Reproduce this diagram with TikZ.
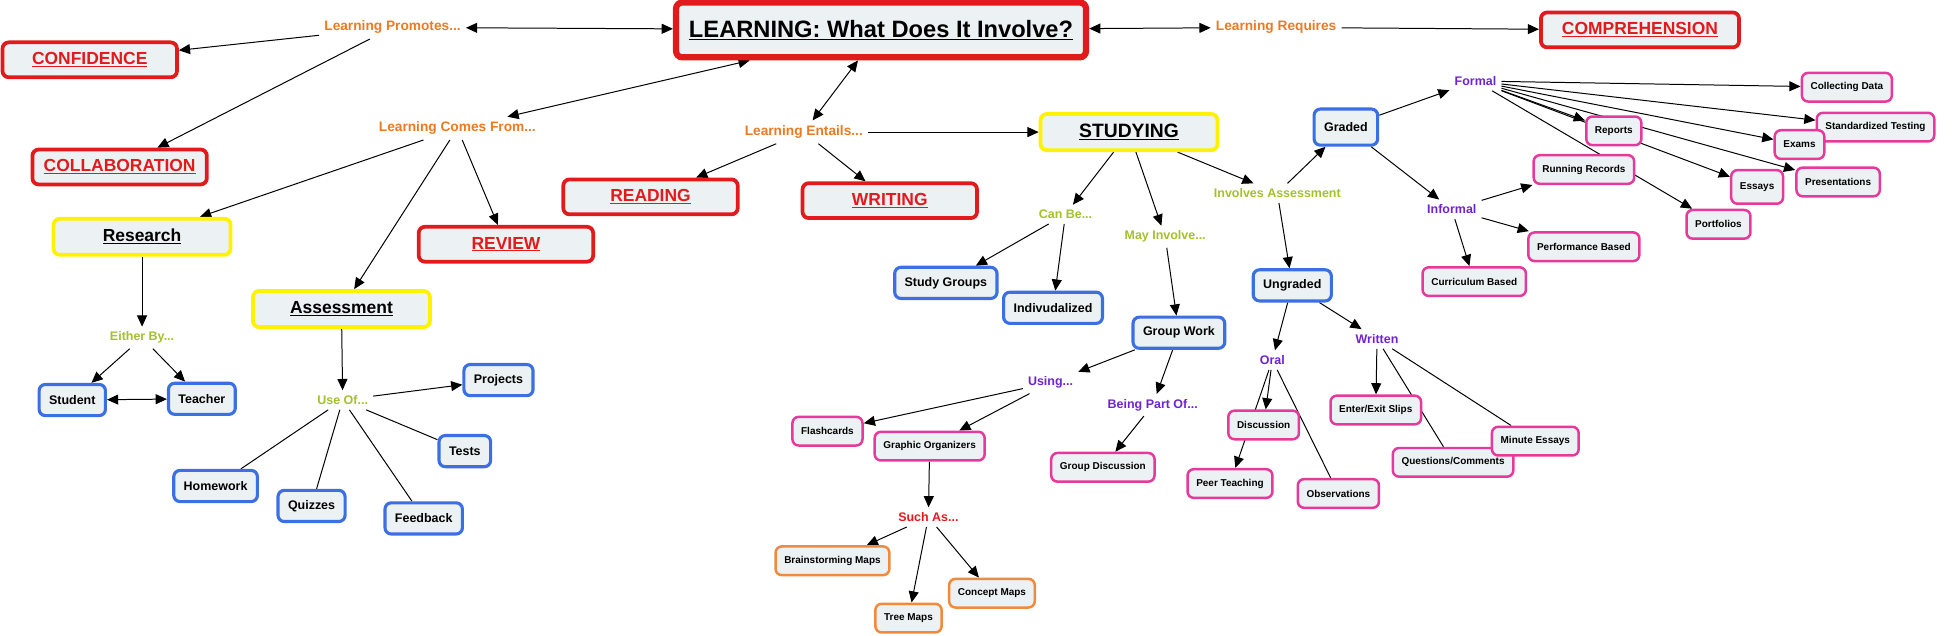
\documentclass[tikz,border=0pt]{standalone}
\usepackage{fontspec}
\setmainfont{Liberation Sans}
\usepackage{tikz}
\usetikzlibrary{ arrows.meta,  % For the triangle tips
                 positioning,
               }
\definecolor{boxfill}{HTML}{ECF1F3}
\definecolor{mapred}{HTML}{E31A1C}
\definecolor{mapyellow}{HTML}{FFF200}
\definecolor{mapblue}{HTML}{3B6FE3}
\definecolor{mappink}{HTML}{E6399B}
\definecolor{maporange}{HTML}{F08A3C}
\definecolor{txtorange}{HTML}{EB7A22}
\definecolor{txtgreen}{HTML}{A2C12A}
\definecolor{txtpurple}{HTML}{6E22D2}
\newcommand{\mapfont}[1]{\fontsize{#1}{#1}\selectfont\bfseries}
\pgfdeclarelayer{background}
\pgfsetlayers{background,main}

\tikzstyle{edge} = [-{Triangle[length=9pt, width=8pt]}, line width=0.8pt]
\tikzstyle{both} = [{Triangle[length=9pt, width=8pt]}-{Triangle[length=9pt, width=8pt]}, line width=0.8pt]
\tikzstyle{plain} = [line width=0.8pt]
\tikzstyle{concept} = [rectangle, rounded corners=5pt, fill=boxfill, text=black, inner xsep=8pt, minimum height=25pt]
\tikzstyle{headline} = [concept, draw=mapred, line width=5pt, minimum width=329pt, minimum height=44pt, font=\mapfont{19}]
\tikzstyle{redbox} = [concept, draw=mapred, line width=3pt, text=mapred, minimum width=140pt, minimum height=28pt, font=\mapfont{14}]
\tikzstyle{yellowbox} = [concept, draw=mapyellow, line width=3pt, minimum width=142pt, minimum height=29pt, font=\mapfont{14}]
\tikzstyle{bluebox} = [concept, draw=mapblue, line width=2.5pt, font=\mapfont{10}]
\tikzstyle{pinkbox} = [concept, draw=mappink, line width=2pt, inner xsep=7pt, minimum height=23pt, font=\mapfont{8}]
\tikzstyle{orangebox} = [pinkbox, draw=maporange]
\tikzstyle{phrase} = [inner sep=4pt, font=\mapfont{10}]
\tikzstyle{orangephrase} = [phrase, text=txtorange, font=\mapfont{11}]
\tikzstyle{greenphrase} = [phrase, text=txtgreen]
\tikzstyle{purplephrase} = [phrase, text=txtpurple]
\tikzstyle{redphrase} = [phrase, text=mapred]

\begin{document}
\begin{tikzpicture}[x=1pt, y=-1pt]
  \useasboundingbox (0,0) rectangle (1568,510);

  \node (title) [headline] at (707,24) {\underline{LEARNING: What Does It Involve?}};
  \node (promotes) [orangephrase] at (315,22) {Learning Promotes...};
  \node (confidence) [redbox] at (72,48) {\underline{CONFIDENCE}};
  \node (collaboration) [redbox] at (96,134) {\underline{COLLABORATION}};
  \node (requires) [orangephrase] at (1024,22) {Learning Requires};
  \node (comprehension) [redbox, minimum width=159pt] at (1316,24) {\underline{COMPREHENSION}};
  \node (comesfrom) [orangephrase] at (367,103) {Learning Comes From...};
  \node (entails) [orangephrase] at (645,106) {Learning Entails...};
  \node (studying) [yellowbox, font=\mapfont{15.5}] at (906,106) {\underline{STUDYING}};
  \node (reading) [redbox] at (522,158) {\underline{READING}};
  \node (writing) [redbox] at (714,161) {\underline{WRITING}};
  \node (review) [redbox] at (406,196) {\underline{REVIEW}};

  \node (research) [yellowbox] at (114,190) {\underline{Research}};
  \node (eitherby) [greenphrase] at (114,271) {Either By...};
  \node (student) [bluebox] at (58,321) {Student};
  \node (teacher) [bluebox] at (162,320) {Teacher};

  \node (assessment) [yellowbox] at (274,248) {\underline{Assessment}};
  \node (useof) [greenphrase] at (275,321) {Use Of...};
  \node (projects) [bluebox] at (400,305) {Projects};
  \node (tests) [bluebox] at (373,362) {Tests};
  \node (homework) [bluebox] at (173,390) {Homework};
  \node (quizzes) [bluebox] at (250,406) {Quizzes};
  \node (feedback) [bluebox] at (340,416) {Feedback};

  \node (canbe) [greenphrase] at (855,172) {Can Be...};
  \node (mayinvolve) [greenphrase] at (935,190) {May Involve...};
  \node (involves) [greenphrase] at (1025,155) {Involves Assessment};
  \node (studygroups) [bluebox] at (759,227) {Study Groups};
  \node (indiv) [bluebox] at (845,247) {Indivudalized};
  \node (groupwork) [bluebox] at (946,267) {Group Work};
  \node (using) [purplephrase] at (843,307) {Using...};
  \node (beingpart) [purplephrase] at (925,325) {Being Part Of...};
  \node (flashcards) [pinkbox] at (664,346) {Flashcards};
  \node (graphic) [pinkbox] at (746,358) {Graphic Organizers};
  \node (groupdisc) [pinkbox] at (885,375) {Group Discussion};
  \node (suchas) [redphrase] at (745,415) {Such As...};
  \node (brainstorm) [orangebox] at (668,450) {Brainstorming Maps};
  \node (treemaps) [orangebox] at (729,496) {Tree Maps};
  \node (conceptmaps) [orangebox] at (796,476) {Concept Maps};

  \node (graded) [bluebox, minimum height=29pt] at (1080,102) {Graded};
  \node (formal) [purplephrase] at (1184,65) {Formal};
  \node (informal) [purplephrase] at (1165,168) {Informal};
  \node (collecting) [pinkbox] at (1482,70) {Collecting Data};
  \node (standardized) [pinkbox] at (1505,102) {Standardized Testing};
  \node (reports) [pinkbox] at (1295,105) {Reports};
  \node (exams) [pinkbox] at (1444,116) {Exams};
  \node (runningrec) [pinkbox] at (1271,136) {Running Records};
  \node (essays) [pinkbox, minimum height=27pt] at (1410,150) {Essays};
  \node (presentations) [pinkbox] at (1475,146) {Presentations};
  \node (portfolios) [pinkbox] at (1379,180) {Portfolios};
  \node (performance) [pinkbox] at (1271,198) {Performance Based};
  \node (curriculum) [pinkbox] at (1183,226) {Curriculum Based};

  \node (ungraded) [bluebox] at (1037,229) {Ungraded};
  \node (oral) [purplephrase] at (1021,289) {Oral};
  \node (written) [purplephrase] at (1105,272) {Written};
  \node (discussion) [pinkbox] at (1014,341) {Discussion};
  \node (peerteaching) [pinkbox] at (987,388) {Peer Teaching};
  \node (observations) [pinkbox] at (1074,396) {Observations};
  \node (enterexit) [pinkbox] at (1104,329) {Enter/Exit Slips};
  \node (questions) [pinkbox] at (1166,371) {Questions/Comments};
  \node (minuteessays) [pinkbox] at (1232,354) {Minute Essays};

  \begin{pgfonlayer}{background}
    \draw [both] (title) -- (promotes);
    \draw [both] (title) -- (requires);
    \draw [both] (title) -- (comesfrom);
    \draw [both] (title) -- (entails);
    \draw [edge] (promotes) -- (confidence);
    \draw [edge] (promotes) -- (collaboration);
    \draw [edge] (requires) -- (comprehension);
    \draw [edge] (comesfrom) -- (research);
    \draw [edge] (comesfrom) -- (assessment);
    \draw [edge] (comesfrom) -- (review);
    \draw [edge] (entails) -- (reading);
    \draw [edge] (entails) -- (writing);
    \draw [edge] (entails) -- (studying);

    \draw [edge] (research) -- (eitherby);
    \draw [edge] (eitherby) -- (student);
    \draw [edge] (eitherby) -- (teacher);
    \draw [both] (student) -- (teacher);
    \draw [edge] (assessment) -- (useof);
    \draw [edge] (useof) -- (projects);
    \draw [plain] (useof) -- (tests);
    \draw [plain] (useof) -- (homework);
    \draw [plain] (useof) -- (quizzes);
    \draw [plain] (useof) -- (feedback);

    \draw [edge] (studying) -- (canbe);
    \draw [edge] (studying) -- (mayinvolve);
    \draw [edge] (studying) -- (involves);
    \draw [edge] (canbe) -- (studygroups);
    \draw [edge] (canbe) -- (indiv);
    \draw [edge] (mayinvolve) -- (groupwork);
    \draw [edge] (groupwork) -- (using);
    \draw [edge] (groupwork) -- (beingpart);
    \draw [edge] (using) -- (flashcards);
    \draw [edge] (using) -- (graphic);
    \draw [edge] (beingpart) -- (groupdisc);
    \draw [edge] (graphic) -- (suchas);
    \draw [edge] (suchas) -- (brainstorm);
    \draw [edge] (suchas) -- (treemaps);
    \draw [edge] (suchas) -- (conceptmaps);

    \draw [edge] (involves) -- (graded);
    \draw [edge] (involves) -- (ungraded);
    \draw [edge] (graded) -- (formal);
    \draw [edge] (graded) -- (informal);
    \draw [edge] (formal) -- (collecting);
    \draw [edge] (formal) -- (standardized);
    \draw [edge] (formal) -- (exams);
    \draw [edge] (formal) -- (reports);
    \draw [edge] (formal) -- (essays);
    \draw [edge] (formal) -- (presentations);
    \draw [edge] (formal) -- (portfolios);
    \draw [edge] (informal) -- (runningrec);
    \draw [edge] (informal) -- (performance);
    \draw [edge] (informal) -- (curriculum);

    \draw [edge] (ungraded) -- (oral);
    \draw [edge] (ungraded) -- (written);
    \draw [edge] (oral) -- (discussion);
    \draw [edge] (oral) -- (peerteaching);
    \draw [plain] (oral) -- (observations);
    \draw [edge] (written) -- (enterexit);
    \draw [plain] (written) -- (questions);
    \draw [plain] (written) -- (minuteessays);
  \end{pgfonlayer}
\end{tikzpicture}
\end{document}
